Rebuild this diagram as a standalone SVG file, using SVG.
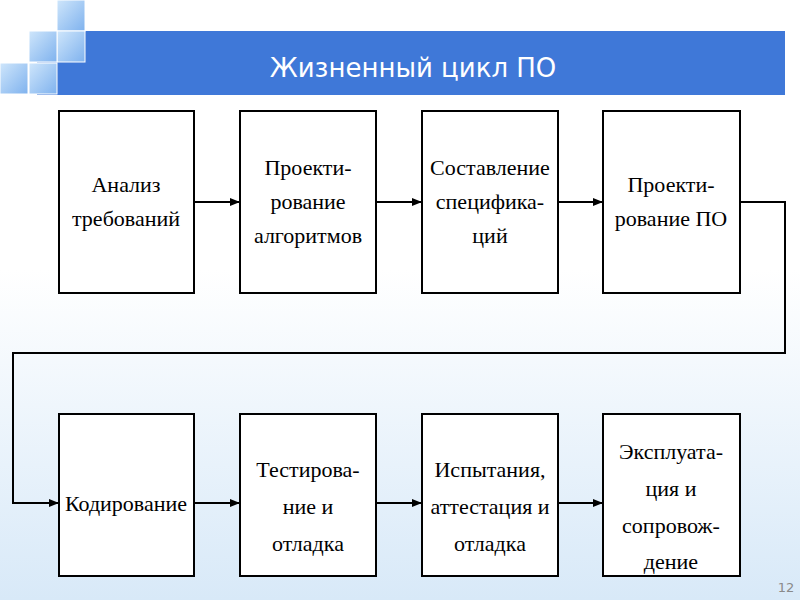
<svg xmlns="http://www.w3.org/2000/svg" width="800" height="600" viewBox="0 0 800 600">
<defs>
<linearGradient id="bg" x1="0" y1="0" x2="0" y2="1">
<stop offset="0" stop-color="#ffffff"/><stop offset="0.45" stop-color="#ffffff"/><stop offset="1" stop-color="#d8e9f8"/>
</linearGradient>
<linearGradient id="sq" x1="0" y1="0" x2="1" y2="1">
<stop offset="0" stop-color="#cfe6fb"/><stop offset="1" stop-color="#7fb2ee"/>
</linearGradient>
<marker id="ah" viewBox="0 0 10 10" refX="10" refY="5" markerWidth="10" markerHeight="10" markerUnits="userSpaceOnUse" orient="auto">
<path d="M0,1 L10,5 L0,9 z" fill="#000"/>
</marker>
<style>
.box{fill:#fff;stroke:#000;stroke-width:2}
.t{font-family:"Liberation Serif",serif;font-size:22px;text-anchor:middle;fill:#000}
.c{fill:none;stroke:#000;stroke-width:2}
.s{fill:url(#sq);stroke:#ffffff;stroke-width:1}
</style>
</defs>
<rect width="800" height="600" fill="url(#bg)"/>
<rect x="37" y="31" width="748" height="64" fill="#3f78d8"/>
<rect class="s" x="57" y="0" width="28" height="31"/>
<rect class="s" x="57" y="31" width="28" height="31"/>
<rect class="s" x="29" y="31" width="28" height="31"/>
<rect class="s" x="29" y="63" width="28" height="31"/>
<rect class="s" x="0" y="63" width="28" height="31"/>
<text x="413" y="77" font-family="'DejaVu Sans',sans-serif" font-size="26" fill="#ffffff" text-anchor="middle">Жизненный цикл ПО</text>
<g id="connectors">
<line class="c" x1="194" y1="202" x2="240" y2="202" marker-end="url(#ah)"/>
<line class="c" x1="376" y1="202" x2="422" y2="202" marker-end="url(#ah)"/>
<line class="c" x1="558" y1="202" x2="603" y2="202" marker-end="url(#ah)"/>
<polyline class="c" points="740,202 785,202 785,353 13,353 13,503 59,503" marker-end="url(#ah)"/>
<line class="c" x1="194" y1="503" x2="240" y2="503" marker-end="url(#ah)"/>
<line class="c" x1="376" y1="503" x2="422" y2="503" marker-end="url(#ah)"/>
<line class="c" x1="558" y1="503" x2="603" y2="503" marker-end="url(#ah)"/>
</g>
<g id="n1"><rect class="box" x="59" y="111" width="135" height="182"/><text class="t" x="126" y="192">Анализ</text><text class="t" x="126" y="226">требований</text></g>
<g id="n2"><rect class="box" x="240" y="111" width="136" height="182"/><text class="t" x="308" y="175">Проекти-</text><text class="t" x="308" y="209">рование</text><text class="t" x="308" y="243">алгоритмов</text></g>
<g id="n3"><rect class="box" x="422" y="111" width="136" height="182"/><text class="t" x="490" y="175">Составление</text><text class="t" x="490" y="209">специфика-</text><text class="t" x="490" y="243">ций</text></g>
<g id="n4"><rect class="box" x="603" y="111" width="137" height="182"/><text class="t" x="671" y="192">Проекти-</text><text class="t" x="671" y="226">рование ПО</text></g>
<g id="n5"><rect class="box" x="59" y="414" width="135" height="162"/><text class="t" x="126" y="511">Кодирование</text></g>
<g id="n6"><rect class="box" x="240" y="414" width="136" height="162"/><text class="t" x="308" y="477">Тестирова-</text><text class="t" x="308" y="514">ние и</text><text class="t" x="308" y="551">отладка</text></g>
<g id="n7"><rect class="box" x="422" y="414" width="136" height="162"/><text class="t" x="490" y="477">Испытания,</text><text class="t" x="490" y="514">аттестация и</text><text class="t" x="490" y="551">отладка</text></g>
<g id="n8"><rect class="box" x="603" y="414" width="137" height="162"/><text class="t" x="671" y="459">Эксплуата-</text><text class="t" x="671" y="496">ция и</text><text class="t" x="671" y="533">сопровож-</text><text class="t" x="671" y="569">дение</text></g>
<text x="786" y="592" font-family="'DejaVu Sans',sans-serif" font-size="13" fill="#8a8a8a" text-anchor="middle">12</text>
</svg>
